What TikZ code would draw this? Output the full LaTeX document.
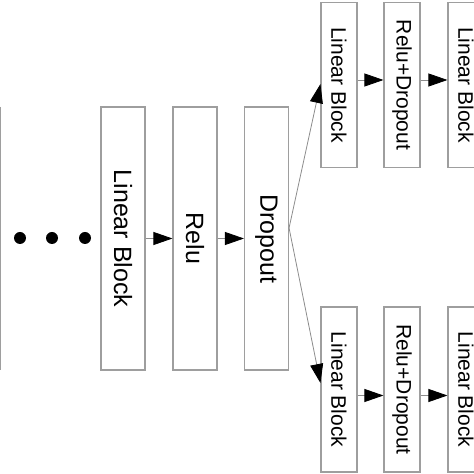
\documentclass[tikz,border=0pt]{standalone}
\usepackage{fontspec}
\setmainfont{Liberation Sans}
\usetikzlibrary{arrows.meta}
\begin{document}
\begin{tikzpicture}[x=1pt,y=1pt,
  bigbox/.style={draw=black!38,line width=1.1pt,minimum width=44pt,minimum height=263pt,inner sep=0pt,
    font=\fontsize{25}{30}\selectfont},
  smallbox/.style={draw=black!38,line width=1.1pt,minimum width=36pt,minimum height=165pt,inner sep=0pt,
    font=\fontsize{21}{25}\selectfont},
  conn/.style={draw=black!45,line width=0.8pt,-{Triangle[length=19pt,width=13pt,color=black,fill=black]}},
  dot/.style={circle,fill=black,minimum size=12pt,inner sep=0pt}]
\useasboundingbox (0,0) rectangle (474,474);
\clip (0,0) rectangle (474,474);
% left edge line
\coordinate (l1) at (0.8,367);
\coordinate (l2) at (0.8,104);
\draw[black!38,line width=1.1pt] (l1) -- (l2);
% dots
\node[dot] (d1) at (20,236) {};
\node[dot] (d2) at (52,236) {};
\node[dot] (d3) at (85,236) {};
% main chain
\node[bigbox] (lb) at (123,235.5) {\rotatebox{-90}{Linear Block}};
\node[bigbox] (relu) at (195,235.5) {\rotatebox{-90}{Relu}};
\node[bigbox] (drop) at (266.5,235.5) {\rotatebox{-90}{Dropout}};
\draw[conn] (lb) -- (relu);
\draw[conn] (relu) -- (drop);
% top chain
\node[smallbox] (tlb) at (339,389) {\rotatebox{-90}{Linear Block}};
\node[smallbox] (trd) at (402,389) {\rotatebox{-90}{Relu+Dropout}};
\node[smallbox] (tlb2) at (466,389) {\rotatebox{-90}{Linear Block}};
\draw[conn] ([yshift=5pt]tlb.east) -- ([yshift=5pt]trd.west);
\draw[conn] ([yshift=5pt]trd.east) -- ([yshift=5pt]tlb2.west);
% bottom chain
\node[smallbox] (blb) at (339,84.5) {\rotatebox{-90}{Linear Block}};
\node[smallbox] (brd) at (402,84.5) {\rotatebox{-90}{Relu+Dropout}};
\node[smallbox] (blb2) at (466,84.5) {\rotatebox{-90}{Linear Block}};
\draw[conn] ([yshift=-6pt]blb.east) -- ([yshift=-6pt]brd.west);
\draw[conn] ([yshift=-6pt]brd.east) -- ([yshift=-6pt]blb2.west);
% split
\coordinate (split) at ([yshift=10.5pt]drop.east);
\draw[conn] (split) -- ([yshift=1pt]tlb.west);
\draw[conn] (split) -- ([yshift=6.5pt]blb.west);
\end{tikzpicture}
\end{document}
